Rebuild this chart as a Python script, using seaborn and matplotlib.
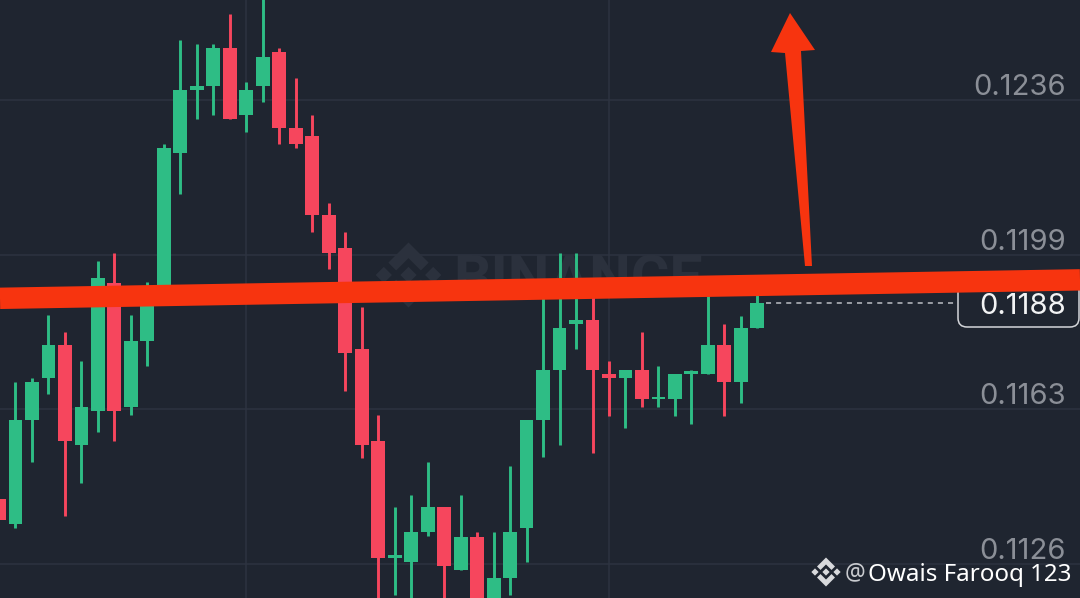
import numpy as np
import pandas as pd
import matplotlib
matplotlib.use("Agg")
import matplotlib.pyplot as plt
from matplotlib.patches import Polygon, FancyBboxPatch
from matplotlib.transforms import Affine2D
import seaborn as sns

# Candle values (price)
highs = [0.115210,0.116917,0.116995,0.118504,0.118102,0.117407,0.119777,0.119981,0.118497,0.119287,
         0.122550,0.125029,0.124927,0.124927,0.125631,0.124034,0.126089,0.124825,0.124129,0.123244,
         0.121166,0.120479,0.118687,0.116118,0.113938,0.114231,0.115021,0.113938,0.114231,0.113345,
         0.113345,0.114926,0.116016,0.119097,0.119981,0.119981,0.119097,0.117398,0.117201,0.118094,
         0.117303,0.117106,0.117201,0.118955,0.118291,0.118488,0.118978]
body_tops = [0.114137,0.116016,0.116909,0.117801,0.117801,0.116317,0.119381,0.119270,0.117895,0.118860,
             0.122455,0.123837,0.123932,0.124825,0.124825,0.123837,0.124626,0.124730,0.122944,0.122747,
             0.120874,0.120085,0.117699,0.115511,0.112809,0.113345,0.113938,0.113938,0.113243,0.113243,
             0.112255,0.113345,0.116016,0.117201,0.118189,0.118386,0.118386,0.117106,0.117201,0.117201,
             0.116568,0.117106,0.117170,0.117793,0.117793,0.118189,0.118782]
body_bottoms = [0.113646,0.113535,0.116016,0.117011,0.115511,0.115423,0.116213,0.116213,0.116317,0.117895,
                0.118860,0.122351,0.123837,0.123932,0.123143,0.123244,0.123939,0.122944,0.122550,0.120874,
                0.119981,0.117604,0.115423,0.112745,0.112745,0.112651,0.113345,0.112556,0.112454,0.111600,
                0.111600,0.112255,0.113449,0.116016,0.117201,0.118291,0.117201,0.117011,0.117004,0.116507,
                0.116510,0.116507,0.117106,0.117106,0.116909,0.116909,0.118189]
lows = [0.113338,0.113440,0.115021,0.116616,0.113741,0.114523,0.115715,0.115511,0.116118,0.117303,
        0.118860,0.121365,0.123150,0.123244,0.123143,0.122849,0.123545,0.122550,0.122455,0.120479,
        0.119588,0.116710,0.115115,0.111500,0.111861,0.111500,0.113250,0.111500,0.112454,0.111500,
        0.111500,0.111861,0.112651,0.115123,0.115423,0.117699,0.115227,0.116111,0.115819,0.116308,
        0.116308,0.116111,0.115914,0.117106,0.116111,0.116412,0.118189]
rising = [0,1,1,1,0,1,1,0,1,1,1,1,1,1,0,1,1,0,0,0,0,0,0,0,1,1,1,0,1,0,1,1,1,1,1,1,0,0,1,0,1,1,1,1,0,1,1]

tick_values = [0.12360, 0.11993, 0.11628, 0.11260]
tick_labels = ["0.1236", "0.1199", "0.1163", "0.1126"]
vertical_grid = [15, 37]
last_price = 0.118782
last_label = "0.1188"
trend_x = [0.0607, 65.57]
trend_y = [0.118896, 0.119334]
watermark = "BINANCE"
credit = "Owais Farooq 123"

BG = "#1f2530"
GRID = "#2d3340"
GREEN = "#2ebd85"
RED = "#f6465d"
ORANGE = "#f7340f"
TICK = "#8b8f97"

sns.set_theme(style="dark", rc={"axes.facecolor": BG, "figure.facecolor": BG})
fig = plt.figure(figsize=(10.8, 5.98), dpi=100)
ax = fig.add_axes([0, 0, 1, 1])
ax.set_xlim(0.0607, 65.57)
ax.set_ylim(0.11179, 0.12597)
ax.set_xticks([])
ax.set_yticks([])
sns.despine(ax=ax, left=True, bottom=True)
px = Affine2D().scale(1 / 1080, -1 / 598).translate(0, 1) + ax.transAxes

# grid
for v in tick_values:
    ax.axhline(v, color=GRID, lw=1.1, zorder=1)
for v in vertical_grid:
    ax.axvline(v, color=GRID, lw=1.1, zorder=1)


def logo(cx, cy, r, color, z):
    d = 0.25
    shapes = [
        [(0, d), (d, 0), (0, -d), (-d, 0)],
        [(0.76, d), (0.76 + d, 0), (0.76, -d), (0.76 - d, 0)],
        [(-0.76, d), (-0.76 + d, 0), (-0.76, -d), (-0.76 - d, 0)],
        [(0, 1), (0.62, 0.38), (0.38, 0.14), (0, 0.52), (-0.38, 0.14), (-0.62, 0.38)],
        [(0, -1), (0.62, -0.38), (0.38, -0.14), (0, -0.52), (-0.38, -0.14), (-0.62, -0.38)],
    ]
    for s in shapes:
        pts = [(cx + r * a, cy - r * b) for a, b in s]
        ax.add_patch(Polygon(pts, closed=True, fc=color, ec="none", transform=px, zorder=z))


# watermark
logo(408.5, 275, 32.5, "#2b313d", 1.5)
ax.text(453 / 1080, 1 - 298 / 598, watermark, transform=ax.transAxes, family="Roboto",
        fontweight="bold", fontsize=42.5, color="#2b313d", ha="left", va="baseline", zorder=1.5)

# candles
df = pd.DataFrame({"i": np.arange(len(highs)), "high": highs, "low": lows,
                   "top": body_tops, "bottom": body_bottoms, "up": rising})
colors = [GREEN if u else RED for u in df["up"]]
ax.vlines(df["i"], df["low"], df["high"], colors=colors, lw=2.1, zorder=3)
ax.bar(df["i"], df["top"] - df["bottom"], bottom=df["bottom"], width=0.84, color=colors,
       linewidth=0, zorder=3.1)

# last-price guide and label
ax.plot([46.5, 58.2], [last_price, last_price], color="#a4a8af", lw=1.3, dashes=(2.8, 2.8), zorder=2.5)
ax.add_patch(FancyBboxPatch((958, 280), 121, 47, boxstyle="round,pad=0,rounding_size=9", transform=px,
                            fc=BG, ec="#d4d6da", lw=1.1, zorder=3.5))
TICK_FS = 21
ax.text(1066 / 1080, 1 - 307 / 598, last_label, transform=ax.transAxes, family="Inter",
        fontsize=TICK_FS, color="#f2f3f4", ha="right", va="center", zorder=4)
for v, s in zip(tick_values, tick_labels):
    ax.annotate(s, xy=(1066 / 1080, v), xycoords=("axes fraction", "data"), xytext=(0, 8.8),
                textcoords="offset points", family="Inter", fontsize=TICK_FS, color=TICK,
                ha="right", va="center", zorder=2)

# trend line and arrow
trend = pd.DataFrame({"x": trend_x, "y": trend_y})
sns.lineplot(data=trend, x="x", y="y", ax=ax, color=ORANGE, lw=15.4, zorder=5,
             solid_capstyle="butt", legend=False, errorbar=None)
ax.set_xlabel("")
ax.set_ylabel("")
ax.add_patch(Polygon([(790, 13), (815, 50), (801, 51), (812, 266), (805, 266), (785, 53), (771, 52)],
                     closed=True, fc=ORANGE, ec="none", transform=px, zorder=5))

# credit
logo(826, 572, 14.5, "#d8d9dc", 6)
ax.text(855 / 1080, 1 - 573 / 598, "@", transform=ax.transAxes, family="Noto Sans", fontsize=16.5,
        color="#c9cbcf", ha="center", va="center", zorder=6)
ax.text(1072 / 1080, 1 - 581 / 598, credit, transform=ax.transAxes, family="Noto Sans", fontsize=17.4,
        color="#ffffff", ha="right", va="baseline", zorder=6)

fig.savefig("out.png", dpi=100, facecolor=BG)
